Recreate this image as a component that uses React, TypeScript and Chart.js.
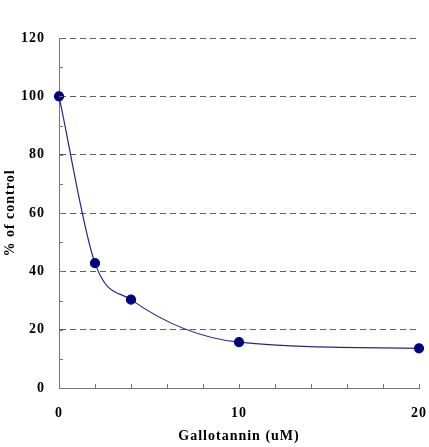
import { useEffect, useRef } from 'react'
import { Chart, registerables, type Plugin } from 'chart.js'

Chart.register(...registerables)

const concentrations = [0, 2, 4, 10, 20]
const percentOfControl = [100, 42.8, 30.3, 15.7, 13.6]
const xLabelValues = [0, 10, 20]
const yLabelStep = 20

const AXIS = '#767676'
const GRID = '#5e5e5e'
const LINE = '#26268a'
const POINT = '#000080'
const FONT = "'Liberation Serif', 'Times New Roman', serif"
const TEXT_FONT = { family: FONT, size: 14, weight: 'bold' as const }

// canvas resets letter spacing on resize, so set it again before every draw
const spacing: Plugin<'line'> = {
  id: 'spacing',
  beforeDraw(chart) {
    ;(chart.ctx as any).letterSpacing = '1px'
  },
}

// small tick marks pointing into the plot, like the original
const innerTicks: Plugin<'line'> = {
  id: 'innerTicks',
  afterDraw(chart) {
    const { ctx, chartArea, scales } = chart
    const x = scales.x
    const y = scales.y
    ctx.save()
    ctx.strokeStyle = AXIS
    ctx.lineWidth = 1
    ctx.beginPath()
    x.ticks.forEach((t) => {
      if (t.value === 0) return
      const px = Math.round(x.getPixelForValue(t.value)) + 0.5
      ctx.moveTo(px, chartArea.bottom)
      ctx.lineTo(px, chartArea.bottom - 4)
    })
    y.ticks.forEach((t) => {
      if (t.value === 0) return
      const py = Math.round(y.getPixelForValue(t.value)) + 0.5
      ctx.moveTo(chartArea.left, py)
      ctx.lineTo(chartArea.left + 4, py)
    })
    ctx.stroke()
    ctx.restore()
  },
}

export default function App() {
  const canvasRef = useRef<HTMLCanvasElement>(null)

  useEffect(() => {
    const canvas = canvasRef.current
    if (!canvas) return
    Chart.getChart(canvas)?.destroy()

    const chart = new Chart(canvas, {
      type: 'line',
      data: {
        datasets: [{
          data: concentrations.map((c, i) => ({ x: c, y: percentOfControl[i] })),
          borderColor: LINE,
          borderWidth: 1.2,
          pointBackgroundColor: POINT,
          pointBorderColor: POINT,
          pointRadius: 4.5,
          cubicInterpolationMode: 'monotone',
          clip: false,
        }],
      },
      options: {
        animation: false,
        responsive: true,
        maintainAspectRatio: false,
        layout: { padding: { top: 38, right: 10, left: 0, bottom: 0 } },
        plugins: { legend: { display: false }, tooltip: { enabled: false } },
        font: TEXT_FONT,
        scales: {
          x: {
            type: 'linear',
            min: 0,
            max: 20,
            afterFit: (s) => {
              s.height = 59
              s.paddingLeft = 0
              s.paddingRight = 0
            },
            grid: { drawOnChartArea: false, drawTicks: false },
            border: { color: AXIS, width: 1 },
            ticks: {
              stepSize: 2,
              autoSkip: false,
              maxRotation: 0,
              padding: 17,
              color: '#000',
              font: TEXT_FONT,
              callback: (v) => (xLabelValues.includes(Number(v)) ? String(v) : ''),
            },
            title: {
              display: true,
              text: 'Gallotannin (uM)',
              color: '#000',
              padding: { top: 2, bottom: 2 },
              font: TEXT_FONT,
            },
          },
          y: {
            min: 0,
            max: 120,
            afterFit: (s) => {
              s.width = 59
              s.paddingTop = 0
              s.paddingBottom = 0
            },
            grid: {
              drawTicks: false,
              color: (c) => (c.tick.value > 0 && c.tick.value % yLabelStep === 0 ? GRID : 'rgba(0,0,0,0)'),
              lineWidth: 1,
            },
            border: { color: AXIS, width: 1, dash: [6, 4] },
            ticks: {
              stepSize: 10,
              autoSkip: false,
              padding: 14,
              color: '#000',
              font: TEXT_FONT,
              callback: (v) => (Number(v) % yLabelStep === 0 ? String(v) : ''),
            },
            title: {
              display: true,
              text: '% of control',
              color: '#000',
              padding: { top: 2, bottom: 2 },
              font: TEXT_FONT,
            },
          },
        },
      },
      plugins: [spacing, innerTicks],
    })

    return () => chart.destroy()
  }, [])

  return (
    <div style={{ position: 'fixed', left: 0, top: 0, width: 429, height: 447, background: '#fff' }}>
      <canvas ref={canvasRef} />
    </div>
  )
}
